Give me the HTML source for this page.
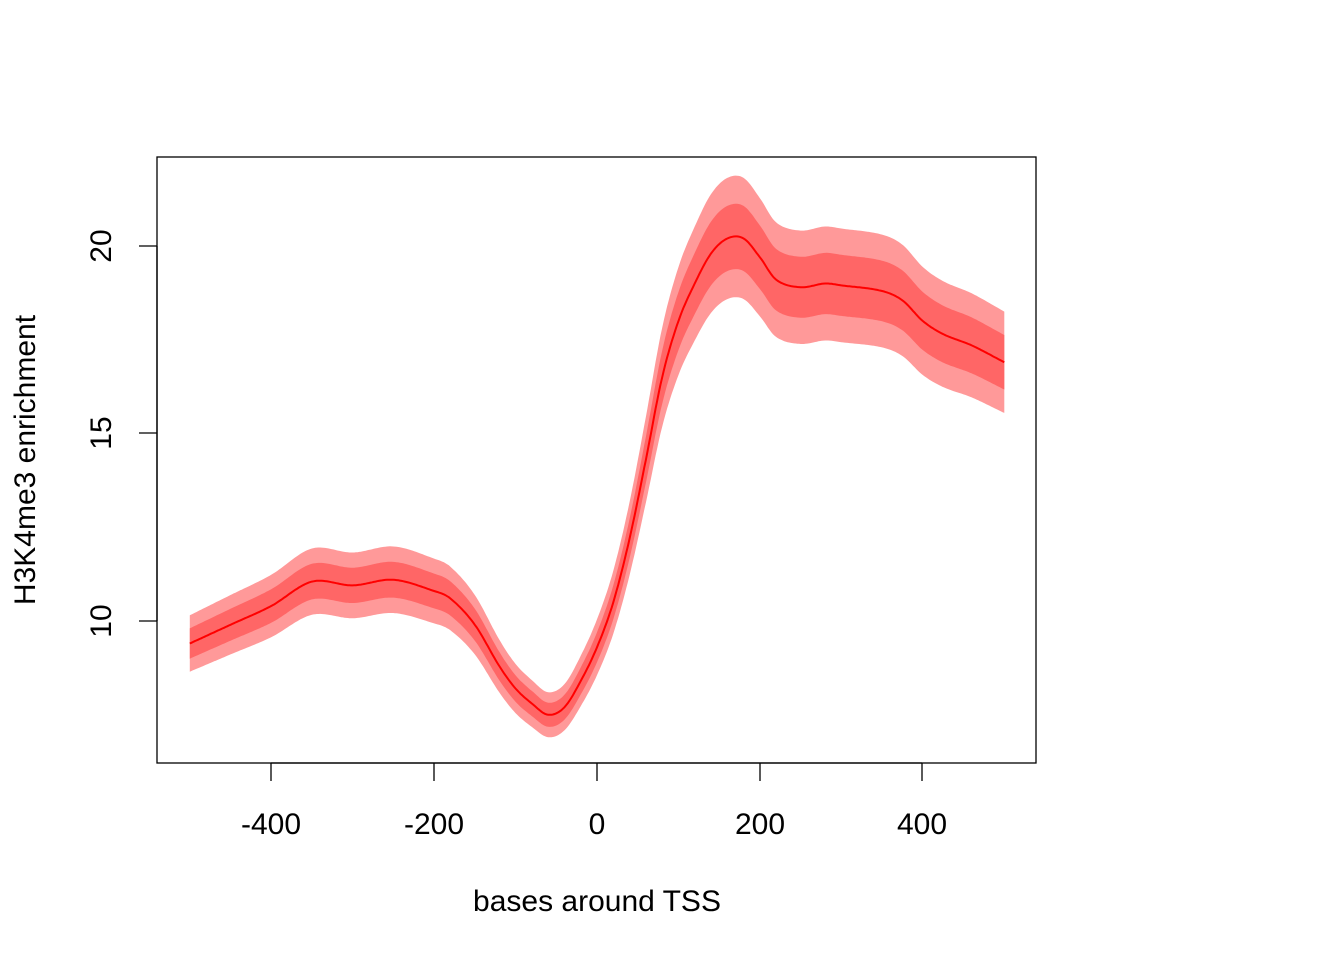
<!DOCTYPE html>
<html><head><meta charset="utf-8"><style>body{margin:0;background:#fff}svg{display:block}text{font-family:"Liberation Sans",Arial,sans-serif;fill:#000}</style></head>
<body>
<svg id="s" width="1344" height="960" xmlns="http://www.w3.org/2000/svg">
<g id="bands"></g>
<rect x="157" y="157" width="879" height="606" fill="none" stroke="#000" stroke-width="1.3"/>
<g stroke="#000" stroke-width="1.3">
<line x1="271" y1="763" x2="922" y2="763"/>
<line x1="271" y1="763" x2="271" y2="781"/><line x1="434" y1="763" x2="434" y2="781"/><line x1="597" y1="763" x2="597" y2="781"/><line x1="760" y1="763" x2="760" y2="781"/><line x1="922" y1="763" x2="922" y2="781"/>
<line x1="157" y1="246" x2="157" y2="621"/>
<line x1="157" y1="246" x2="139" y2="246"/><line x1="157" y1="433" x2="139" y2="433"/><line x1="157" y1="621" x2="139" y2="621"/>
</g>
<g font-size="30" text-anchor="middle">
<text x="271" y="834">-400</text><text x="434" y="834">-200</text><text x="597" y="834">0</text><text x="760" y="834">200</text><text x="922" y="834">400</text>
<text x="597" y="911">bases around TSS</text>
<text transform="translate(111,246) rotate(-90)">20</text>
<text transform="translate(111,433) rotate(-90)">15</text>
<text transform="translate(111,621) rotate(-90)">10</text>
<text transform="translate(35,460) rotate(-90)">H3K4me3 enrichment</text>
</g>
</svg>
<script>
var k=[[-500,9.4],[-450,9.9],[-400,10.4],[-350,11.05],[-300,10.95],[-250,11.1],[-200,10.8],[-180,10.6],[-150,9.9],[-120,8.8],[-100,8.2],[-80,7.8],[-60,7.5],[-40,7.7],[-20,8.4],[0,9.3],[20,10.5],[40,12.2],[60,14.3],[80,16.5],[100,18.0],[120,19.0],[140,19.8],[160,20.2],[180,20.2],[200,19.7],[220,19.1],[250,18.9],[280,19.0],[300,18.95],[350,18.8],[375,18.55],[400,18.0],[425,17.65],[460,17.35],[500,16.9]];
function f(x){for(var i=0;i<k.length-1;i++){if(x<=k[i+1][0]){var p0=k[Math.max(i-1,0)],p1=k[i],p2=k[i+1],p3=k[Math.min(i+2,k.length-1)];var t=(x-p1[0])/(p2[0]-p1[0]);var m1=(p2[1]-p0[1])/(p2[0]-p0[0])*(p2[0]-p1[0]),m2=(p3[1]-p1[1])/(p3[0]-p1[0])*(p2[0]-p1[0]);var t2=t*t,t3=t2*t;return (2*t3-3*t2+1)*p1[1]+(t3-2*t2+t)*m1+(-2*t3+3*t2)*p2[1]+(t3-t2)*m2;}}return k[k.length-1][1];}
function X(x){return 597+x*0.8145}function Y(v){return 621-(v-10)*37.5}
var xs=[];for(var x=-500;x<=500;x+=2)xs.push(x);
function band(c,col){var up=xs.map(function(x){var v=f(x);return X(x).toFixed(1)+","+Y(v*(1+c)).toFixed(1)});var dn=xs.slice().reverse().map(function(x){var v=f(x);return X(x).toFixed(1)+","+Y(v*(1-c)).toFixed(1)});return '<polygon fill="'+col+'" points="'+up.concat(dn).join(" ")+'"/>';}
var line='<polyline fill="none" stroke="#f00" stroke-width="2" points="'+xs.map(function(x){return X(x).toFixed(1)+","+Y(f(x)).toFixed(1)}).join(" ")+'"/>';
document.getElementById("bands").innerHTML=band(0.08,"#ff9999")+band(0.043,"#ff6666")+line;
</script>
</body></html>
